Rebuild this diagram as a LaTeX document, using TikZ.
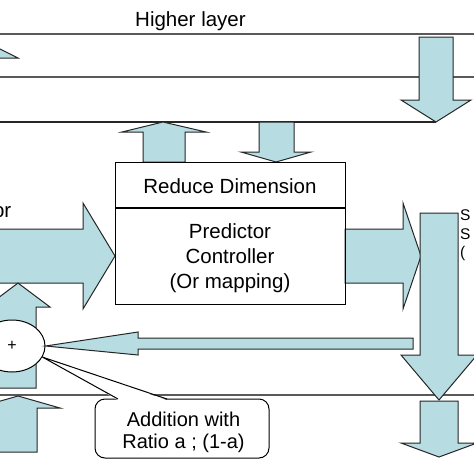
\documentclass[tikz,border=0pt]{standalone}
\usepackage{fontspec}
\setmainfont{Liberation Sans}
\usepackage{xcolor}
\usetikzlibrary{shapes.geometric}

\definecolor{arrowblue}{RGB}{183,221,227}

\begin{document}
\begin{tikzpicture}[x=1pt,y=-1pt,
  blockarr/.style={fill=arrowblue,draw=black!85,line width=1pt,line join=miter},
  layerline/.style={draw=black!65,line width=1.6pt},
  lbl/.style={font=\fontsize{20.5}{25}\selectfont,align=center,inner sep=0pt}]
  \clip (0,0) rectangle (474,474);
  % layer borders
  \draw[layerline] (0,34) -- (474,34);
  \draw[layerline] (0,77) -- (474,77);
  \draw[black!85,line width=1.2pt] (0,122) -- (436,122);
  \draw[black!65,line width=1.3pt] (0,395) -- (474,395);
  % block arrows
  \draw[blockarr] (-20,39) -- (18,58) -- (-20,58) -- cycle;
  \draw[blockarr] (419,37) -- (453,37) -- (453,100) -- (471,100) -- (436,122) -- (401,100) -- (419,100) -- cycle;
  \draw[blockarr] (143,162) -- (143,132) -- (122,132) -- (163,122) -- (206,132) -- (185,132) -- (185,162) -- cycle;
  \draw[blockarr] (259,122) -- (294,122) -- (294,152) -- (311,152) -- (276,162) -- (241,152) -- (259,152) -- cycle;
  \draw[blockarr] (-5,229) -- (83,229) -- (83,203) -- (115,256) -- (83,309) -- (83,283) -- (-5,283) -- cycle;
  \draw[blockarr] (345,229) -- (403,229) -- (403,203) -- (421,256) -- (403,309) -- (403,283) -- (345,283) -- cycle;
  \draw[blockarr] (420,213) -- (458,213) -- (458,355) -- (477,355) -- (439,400) -- (401,355) -- (420,355) -- cycle;
  \draw[blockarr] (420,401) -- (458,401) -- (458,443) -- (477,443) -- (439,457) -- (401,443) -- (420,443) -- cycle;
  \draw[blockarr] (-1,388) -- (-1,307) -- (-14,307) -- (18,283) -- (50,307) -- (36,307) -- (36,388) -- cycle;
  \draw[blockarr] (-1,452) -- (-1,408) -- (-24,408) -- (18,396) -- (60,408) -- (37,408) -- (37,452) -- cycle;
  % controller box
  \node (ctrlbox) [draw,line width=1.2pt,minimum width=230pt,minimum height=142pt,anchor=north west,inner sep=0pt] at (115,162) {};
  \draw[line width=1.2pt] (ctrlbox.west |- 0,208) -- (ctrlbox.east |- 0,208);
  % adder and feedback
  \node (adder) [draw,fill=white,ellipse,line width=1pt,minimum width=66pt,minimum height=52pt,inner sep=0pt,font=\fontsize{16}{18}\selectfont] at (12,346) {+};
  \draw[blockarr] (adder.east) -- (138,332) -- (138,338) -- (413,338) -- (413,349) -- (138,349) -- (138,355) -- cycle;
  % callout
  \draw[fill=white,line width=1pt,rounded corners=10pt] (95,399) rectangle (269,458);
  \fill[white] (118,400.2) -- (adder.-20) -- (167,400.2) -- cycle;
  \draw[line width=1pt] (118,399) -- (adder.-20) -- (167,399);
  % texts
  \node (higher) [lbl,anchor=base west] at (135,26) {Higher layer};
  \node (lefttxt) [lbl,anchor=base east] at (11.5,217) {or};
  \node (reduce) [lbl] at (230,186) {Reduce Dimension};
  \node (predictor) [lbl] at (230,258.5) {Predictor\\Controller\\(Or mapping)};
  \node (sidetxt) [font=\fontsize{15.5}{18.5}\selectfont,align=left,anchor=north west,inner sep=0pt] at (460,209.5) {S\\S\\(};
  \node (ratio) [font=\fontsize{20}{21.5}\selectfont,align=center,inner sep=0pt] at (183.5,432.5) {Addition with\\Ratio a ; (1-a)};
\end{tikzpicture}
\end{document}
